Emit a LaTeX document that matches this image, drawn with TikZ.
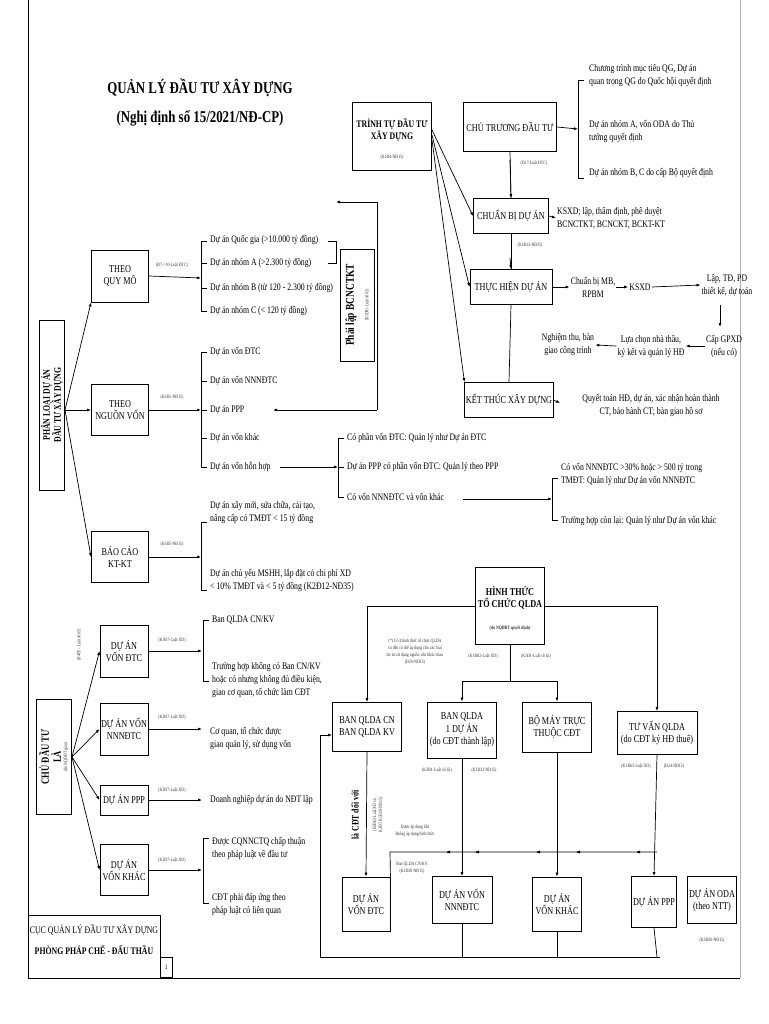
\documentclass[tikz,border=0pt]{standalone}
\usepackage{fontspec}
\setmainfont[FakeStretch=0.78]{Liberation Serif}
\usetikzlibrary{arrows.meta}
\begin{document}
\begin{tikzpicture}[x=1pt,y=-1pt,
 box/.style={draw,line width=0.9pt,align=center,inner sep=1pt,font=\fontsize{10.5}{12.5}\selectfont},
 t/.style={anchor=west,inner sep=1pt,font=\fontsize{10}{13}\selectfont,align=left},
 tc/.style={inner sep=1pt,font=\fontsize{10}{13}\selectfont,align=center},
 sm/.style={inner sep=0.5pt,font=\fontsize{5}{6}\selectfont,text=black!80},
 ar/.style={line width=0.7pt,-{Latex[length=4pt,width=3pt]}},
 ln/.style={line width=0.7pt}]
\useasboundingbox (0,0) rectangle (768,1024);
% frame
\draw[line width=1pt] (28,0) -- (28,978) -- (740,978);
\draw[black!30] (740,0) -- (740,978);
% title
\node[font=\bfseries\fontsize{16.5}{18}\selectfont] (title1) at (200,88) {QUẢN LÝ ĐẦU TƯ XÂY DỰNG};
\node[font=\bfseries\fontsize{16.5}{18}\selectfont] (title2) at (200,118) {(Nghị định số 15/2021/NĐ-CP)};

% ===== Trinh tu
\node[box,minimum width=79pt,minimum height=68pt] (tt) at (392,136) {};
\node[font=\bfseries\fontsize{10}{12}\selectfont,align=center] (ttx) at (392,130) {TRÌNH TỰ ĐẦU TƯ\\XÂY DỰNG};
\node[sm] (ttl) at (392,157) {(K1Đ4-NĐ15)};
\node[box,minimum width=93pt,minimum height=49pt] (ctdt) at (510,127) {CHỦ TRƯƠNG ĐẦU TƯ};
\node[sm] at (534,163) {(Đ17-Luật ĐTC)};
\node[box,minimum width=75pt,minimum height=35pt] (cbda) at (511,216) {CHUẨN BỊ DỰ ÁN};
\node[sm] at (530,245) {(K1Đ12-NĐ35)};
\node[box,minimum width=82pt,minimum height=35pt] (thda) at (511,287) {THỰC HIỆN DỰ ÁN};
\node[box,minimum width=88pt,minimum height=35pt] (ktxd) at (509,400) {KẾT THÚC XÂY DỰNG};
\draw[ln] (ctdt.south) -- (cbda.north);
\draw[ln] (cbda.south) -- (thda.north);
\draw[ln] (thda.south) -- (ktxd.north);
\draw[ar] (510,160) -- (cbda.north);
\draw[ar] (510,258) -- (thda.north);
\draw[ar] (432,130) -- (cbda.west);
\draw[ar] (432,135) -- (thda.west);
\draw[ar] (432,140) -- (ktxd.north west);
% bracket CTDT
\draw[ar] (ctdt.east) -- (578,129);
\draw[ln] (584,80) -- (578,80) -- (578,178) -- (584,178);
\node[t] at (588,76) {Chương trình mục tiêu QG, Dự án\\quan trọng QG do Quốc hội quyết định};
\node[t] at (588,131) {Dự án nhóm A, vốn ODA do Thủ\\tướng quyết định};
\node[t] at (588,173) {Dự án nhóm B, C do cấp Bộ quyết định};
\draw[ar] (cbda.east) -- (556,218);
\node[t] (cbt) at (556,218) {KSXD; lập, thẩm định, phê duyệt\\BCNCTKT, BCNCKT, BCKT-KT};
\node[tc] (mb) at (593,287) {Chuẩn bị MB,\\RPBM};
\node[tc] (ksxd) at (640,287) {KSXD};
\node[tc] (lap) at (727,285) {Lập, TĐ, PD\\thiết kế, dự toán};
\node[tc] (gpxd) at (724,346) {Cấp GPXD\\(nếu có)};
\node[tc] (lcnt) at (651,346) {Lựa chọn nhà thầu,\\ký kết và quản lý HĐ};
\node[tc] (nt) at (568,345) {Nghiệm thu, bàn\\giao công trình};
\draw[ar] (thda.east) -- (mb.west);
\draw[ar] (mb.east) -- (ksxd.west);
\draw[ar] (ksxd.east) -- (lap.west);
\draw[ar] (720,305) -- (720,327);
\draw[ar] (gpxd.west) -- (lcnt.east);
\draw[ar] (lcnt.west) -- (nt.east);
\draw[ar] (ktxd.east) -- (560,403);
\node[tc] (ktt) at (651,405) {Quyết toán HĐ, dự án, xác nhận hoàn thành\\CT, bảo hành CT; bàn giao hồ sơ};

% ===== Phai lap BCNCTKT
\node[draw,line width=0.9pt,minimum width=34pt,minimum height=112pt] (pl) at (357,305) {};
\node[rotate=90,font=\bfseries\fontsize{12}{13}\selectfont] at (351,305) {Phải lập BCNCTKT};
\node[rotate=90,sm] at (367,305) {(K1Đ01-Luật số 62)};
\coordinate (plTop) at (377,202);
\draw[ar] (plTop) -- (336,202);
\draw[ln] (plTop) -- (377,410);
\draw[ar] (377,410) -- (273,410);

% ===== Phan loai
\node[box,minimum width=25pt,minimum height=170pt] (pl2) at (52,405) {};
\node[rotate=90,font=\bfseries\fontsize{10}{11}\selectfont,align=center] at (52,405) {PHÂN LOẠI DỰ ÁN\\ĐẦU TƯ XÂY DỰNG};
\node[box,minimum width=57pt,minimum height=52pt] (qm) at (120,276) {THEO\\QUY MÔ};
\node[box,minimum width=57pt,minimum height=51pt] (nv) at (120,410) {THEO\\NGUỒN VỐN};
\node[box,minimum width=57pt,minimum height=51pt] (bc) at (120,557) {BÁO CÁO\\KT-KT};
\draw[ar] (65,410) -- (qm.south west);
\draw[ar] (65,410) -- (nv.west);
\draw[ar] (65,410) -- (bc.west);
\node[sm] at (172,265) {(Đ7->10-Luật ĐTC)};
\node[sm] at (172,397) {(K2Đ5-NĐ15)};
\node[sm] at (172,544) {(K3Đ5-NĐ15)};
\draw[ar] (qm.east) -- (201,278);
\draw[ar] (nv.east) -- (201,410);
\draw[ar] (bc.east) -- (201,557);
% brackets
\draw[ln] (207,241) -- (201,241) -- (201,311) -- (207,311);
\draw[ln] (201,263) -- (207,263) (201,288) -- (207,288);
\node[t] at (209,240) {Dự án Quốc gia (>10.000 tỷ đồng)};
\node[t] at (209,263) {Dự án nhóm A (>2.300 tỷ đồng)};
\node[t] at (209,288) {Dự án nhóm B (từ 120 - 2.300 tỷ đồng)};
\node[t] at (209,311) {Dự án nhóm C (< 120 tỷ đồng)};
\draw[ln] (328,241) -- (336,241) -- (336,263) -- (328,263);
\draw[ln] (207,352) -- (201,352) -- (201,467) -- (207,467);
\draw[ln] (201,381) -- (207,381) (201,410) -- (207,410) (201,438) -- (207,438);
\node[t] at (209,352) {Dự án vốn ĐTC};
\node[t] at (209,381) {Dự án vốn NNNĐTC};
\node[t] at (209,410) {Dự án PPP};
\node[t] at (209,438) {Dự án vốn khác};
\node[t] (hh) at (209,467) {Dự án vốn hỗn hợp};
\draw[ar] (280,467) -- (338,467);
\draw[ln] (344,438) -- (338,438) -- (338,497) -- (344,497) (338,467) -- (344,467);
\node[t] at (346,438) {Có phần vốn ĐTC: Quản lý như Dự án ĐTC};
\node[t] at (346,467) {Dự án PPP có phần vốn ĐTC: Quản lý theo PPP};
\node[t] at (346,497) {Có vốn NNNĐTC và vốn khác};
\draw[ar] (463,499) -- (552,499);
\draw[ln] (558,478) -- (552,478) -- (552,520) -- (558,520);
\node[t] at (560,474) {Có vốn NNNĐTC >30\% hoặc > 500 tỷ trong\\TMĐT: Quản lý như Dự án vốn NNNĐTC};
\node[t] at (560,521) {Trường hợp còn lại: Quản lý như Dự án vốn khác};
\draw[ln] (207,522) -- (201,522) -- (201,590) -- (207,590);
\node[t] at (209,513) {Dự án xây mới, sửa chữa, cải tạo,\\nâng cấp có TMĐT < 15 tỷ đồng};
\node[t] at (209,580) {Dự án chủ yếu MSHH, lắp đặt có chi phí XD\\< 10\% TMĐT và < 5 tỷ đồng (K2Đ12-NĐ35)};

% ===== Chu dau tu
\node[box,minimum width=35pt,minimum height=115pt] (cdt) at (54,757) {};
\node[rotate=90,font=\bfseries\fontsize{11}{12}\selectfont,align=center] at (50,757) {CHỦ ĐẦU TƯ\\LÀ};
\node[rotate=90,sm] at (66,757) {(do NQĐĐT giao)};
\node[rotate=90,sm] at (79,645) {(K4Đ1 - Luật số 62)};
\node[box,minimum width=48pt,minimum height=52pt] (c1) at (124,651) {DỰ ÁN\\VỐN ĐTC};
\node[box,minimum width=48pt,minimum height=52pt] (c2) at (124,729) {DỰ ÁN VỐN\\NNNĐTC};
\node[box,minimum width=48pt,minimum height=30pt] (c3) at (124,800) {DỰ ÁN PPP};
\node[box,minimum width=48pt,minimum height=51pt] (c4) at (124,870) {DỰ ÁN\\VỐN KHÁC};
\foreach \n in {c1,c2,c3,c4} \draw[ar] (72,757) -- (\n.west);
\node[sm] at (172,640) {(K3Đ7-Luật XD)};
\node[sm] at (172,717) {(K2Đ7-Luật XD)};
\node[sm] at (172,790) {(K2Đ7-Luật XD)};
\node[sm] at (172,860) {(K2Đ7-Luật XD)};
\draw[ar] (c1.east) -- (202,651);
\draw[ar] (c2.east) -- (202,729);
\draw[ar] (c3.east) -- (202,800);
\draw[ar] (c4.east) -- (202,870);
\draw[ln] (209,620) -- (203,620) -- (203,681) -- (209,681);
\node[t] at (211,620) {Ban QLDA CN/KV};
\node[t] at (211,680) {Trường hợp không có Ban CN/KV\\hoặc có nhưng không đủ điều kiện,\\giao cơ quan, tổ chức làm CĐT};
\node[t] at (209,738) {Cơ quan, tổ chức được\\giao quản lý, sử dụng vốn};
\node[t] at (209,800) {Doanh nghiệp dự án do NĐT lập};
\draw[ln] (209,838) -- (203,838) -- (203,903) -- (209,903);
\node[t] at (211,848) {Được CQNNCTQ chấp thuận\\theo pháp luật về đầu tư};
\node[t] at (211,905) {CĐT phải đáp ứng theo\\pháp luật có liên quan};

% footer
\node[draw,line width=0.9pt,minimum width=132pt,minimum height=63pt,anchor=north west] (ft) at (28,915) {};
\node[font=\fontsize{10}{11}\selectfont] at (94,930) {CỤC QUẢN LÝ ĐẦU TƯ XÂY DỰNG};
\node[font=\bfseries\fontsize{10}{11}\selectfont] at (94,950) {PHÒNG PHÁP CHẾ - ĐẤU THẦU};
\node[draw,minimum width=12pt,minimum height=20pt,anchor=north west,inner sep=0pt,font=\fontsize{7}{8}\selectfont] (pg) at (160,957) {1};

% ===== Hinh thuc
\node[box,minimum width=69pt,minimum height=77pt] (ht) at (510,606) {};
\node[font=\bfseries\fontsize{10.5}{12.5}\selectfont,align=center] at (510,598) {HÌNH THỨC\\TỔ CHỨC QLDA};
\node[sm,font=\bfseries\fontsize{5}{6}\selectfont] at (510,628) {(do NQĐĐT quyết định)};
\node[box,minimum width=69pt,minimum height=49pt] (b1) at (367,727) {BAN QLDA CN\\BAN QLDA KV};
\node[box,minimum width=69pt,minimum height=56pt] (b2) at (462,730) {BAN QLDA\\1 DỰ ÁN\\(do CĐT thành lập)};
\node[box,minimum width=69pt,minimum height=50pt] (b3) at (557,727) {BỘ MÁY TRỰC\\THUỘC CĐT};
\node[box,minimum width=80pt,minimum height=43pt] (b4) at (657,733) {TƯ VẤN QLDA\\(do CĐT ký HĐ thuê)};
\draw[ar] (ht.west) -| (b1.north);
\draw[ar] (ht.east) -| (b4.north);
\draw[ln] (ht.south) -- (510,681);
\draw[ar] (510,681) -| (b2.north);
\draw[ar] (510,681) -| (b3.north);
\node[sm,align=center,font=\fontsize{5}{7}\selectfont] at (415,652) {(*) Có 4 hình thức tổ chức QLDA\\và đều có thể áp dụng cho các loại\\dự án sử dụng nguồn vốn khác nhau\\(Đ20-NĐ15)};
\node[sm] at (483,656) {(K1Đ62-Luật XD)};
\node[sm] at (536,656) {(K1Đ1-Luật số 62)};
\node[sm] at (437,770) {(K2Đ1-Luật số 62)};
\node[sm] at (484,770) {(K1Đ22-NĐ15)};
\node[sm] at (636,766) {(K1Đ65-Luật XD)};
\node[sm] at (674,766) {(Đ24-NĐ15)};
\node[box,minimum width=48pt,minimum height=54pt] (d1) at (366,904) {DỰ ÁN\\VỐN ĐTC};
\node[box,minimum width=60pt,minimum height=47pt] (d2) at (462,900) {DỰ ÁN VỐN\\NNNĐTC};
\node[box,minimum width=49pt,minimum height=54pt] (d3) at (557,904) {DỰ ÁN\\VỐN KHÁC};
\node[box,minimum width=45pt,minimum height=51pt] (d4) at (654,902) {DỰ ÁN PPP};
\node[box,minimum width=49pt,minimum height=47pt] (d5) at (712,900) {DỰ ÁN ODA\\(theo NTT)};
\node[sm] at (712,940) {(K3Đ20-NĐ15)};
\draw[ar] (b1.south) -- (d1.north);
\node[rotate=90,font=\bfseries\fontsize{10}{11}\selectfont] at (355,815) {là CĐT đối với};
\node[rotate=90,sm,align=center] at (378,815) {(K2Đ63-Luật XD và\\K3Đ7, K1Đ20-NĐ15)};
\draw[ar] (b2.south) -- (d2.north);
\draw[ar] (b3.south) -- (d3.north);
\draw[ar] (b4.south) -- (d4.north);
\draw[ln] (d1.north east) -- (390,852) -- (657,852);
\foreach \x in {447,476,537,577,637} \draw[ar] (\x,852) -- ++(-1,0);
\node[sm,align=center,font=\fontsize{5}{6.5}\selectfont] at (415,831) {Được áp dụng khi\\không áp dụng hình thức};
\node[sm,align=center,font=\fontsize{5}{6.5}\selectfont] at (412,868) {Ban QLDA CN/KV\\(K1Đ20-NĐ15)};
\coordinate (bl) at (320,957);
\draw[ln] (d2.south) -- (462,957);
\draw[ln] (d3.south) -- (557,957);
\draw[ln] (d4.south) -- (657,957);
\draw[ln] (660,957) -- (bl);
\draw[ar] (bl) -- (320,735) -- (b1.west |- 0,735);
\end{tikzpicture}
\end{document}
